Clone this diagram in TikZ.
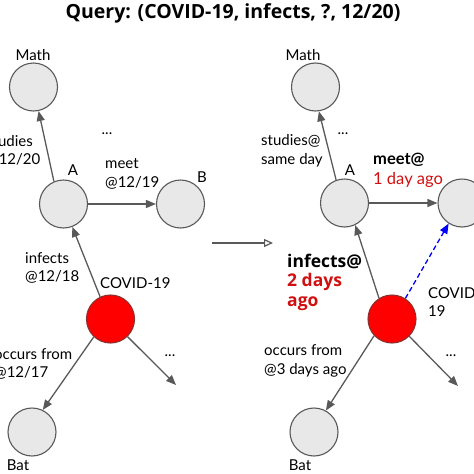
\documentclass[tikz,border=0pt]{standalone}
\usepackage{fontspec}
\setmainfont{Lato}
\newfontfamily\titlefont{Open Sans}
\usetikzlibrary{arrows.meta}
\definecolor{edgegray}{HTML}{595959}
\definecolor{nodefill}{HTML}{E8E8E8}
\definecolor{covidred}{HTML}{FF0000}
\definecolor{covidedge}{HTML}{8A3030}
\definecolor{txtred}{HTML}{D01010}
\begin{document}
\begin{tikzpicture}[x=1pt,y=-1pt,
  ent/.style={circle,draw=edgegray,line width=1.1pt,fill=nodefill,minimum size=48pt,inner sep=0pt},
  covid/.style={circle,draw=covidedge,line width=1.1pt,fill=covidred,minimum size=48pt,inner sep=0pt},
  arr/.style={draw=edgegray,line width=1.3pt,-{Triangle[length=10pt,width=8pt]}},
  blarr/.style={draw=blue,line width=1.3pt,dash pattern=on 5pt off 3pt,-{Triangle[length=10pt,width=8pt]}},
  lbl/.style={font=\fontsize{15}{18.5}\selectfont,inner sep=0pt,align=left},
  big/.style={font=\titlefont\fontsize{17.5}{19.5}\selectfont\bfseries,inner sep=0pt,align=left}]
\useasboundingbox (0,0) rectangle (474,474);
\node[inner sep=0pt,font=\titlefont\fontsize{19.5}{22}\selectfont\bfseries] (title) at (233,13) {Query: (COVID-19, infects, ?, 12/20)};
% left graph
\node[ent] (lmath) at (33.5,87) {};
\node[ent] (la) at (63.5,204) {};
\node[ent] (lb) at (180.5,204) {};
\node[covid] (lc) at (110.5,319) {};
\node[ent] (lbat) at (32,432) {};
\coordinate (ldots) at (176,385);
\draw[arr] (la.113) -- (lmath.282);
\draw[arr] (la.east) -- (lb.west);
\draw[arr] (lc.115) -- (la.291);
\draw[arr] (lc.227) -- (lbat.64);
\draw[arr] (lc.314) -- (ldots);
\node[lbl] (lmathl) at (33,55) {Math};
\node[lbl,anchor=west] (lstud) at (-14,151) {studies\\@12/20};
\node[lbl] (ldots1) at (107,134) {...};
\node[lbl,anchor=west] (lmeet) at (105,174) {meet\\@12/19};
\node[lbl] (lal) at (73,170) {A};
\node[lbl] (lbl) at (202,177) {B};
\node[lbl,anchor=west] (linf) at (25,268) {infects\\@12/18};
\node[lbl,anchor=west] (lcl) at (100,283) {COVID-19};
\node[lbl,anchor=west] (locc) at (-6,364) {occurs from\\@12/17};
\node[lbl] (ldots2) at (170,356) {...};
\node[lbl] (lbatl) at (18,465) {Bat};
% transition arrow
\coordinate (ts) at (212,243);
\coordinate (te) at (273,243);
\draw[draw=edgegray,line width=1.2pt,-{Triangle[open,length=9pt,width=8pt]}] (ts) -- (te);
% right graph
\node[ent] (rmath) at (315.5,87) {};
\node[ent] (ra) at (344.5,203) {};
\node[ent] (rb) at (462,203) {};
\node[covid] (rc) at (392,319) {};
\node[ent] (rbat) at (314,432) {};
\coordinate (rdots) at (458,386);
\draw[arr] (ra.110) -- (rmath.278);
\draw[arr] (ra.east) -- (rb.west);
\draw[arr] (rc.122) -- (ra.296);
\draw[blarr] (rc.57.5) -- (rb.237.5);
\draw[arr] (rc.223) -- (rbat.61);
\draw[arr] (rc.315) -- (rdots);
\node[lbl] (rmathl) at (303,55) {Math};
\node[lbl,anchor=west] (rstud) at (261,151) {studies@\\same day};
\node[lbl] (rdots1) at (343,134) {...};
\node[lbl] (ral) at (350,170) {A};
\node[lbl,anchor=west,font=\fontsize{16.5}{20}\selectfont] (rmeet) at (373,170) {\textbf{meet@}\\\textcolor{txtred}{1 day ago}};
\node[big,anchor=west] (rinf) at (287,282) {infects@\\\textcolor{txtred}{2 days}\\\textcolor{txtred}{ago}};
\node[lbl,anchor=west] (rcl) at (428,302) {COVID\\19};
\node[lbl,anchor=west] (rocc) at (264,361) {occurs from\\@3 days ago};
\node[lbl] (rdots2) at (451,356) {...};
\node[lbl] (rbatl) at (300,465) {Bat};
\end{tikzpicture}
\end{document}
